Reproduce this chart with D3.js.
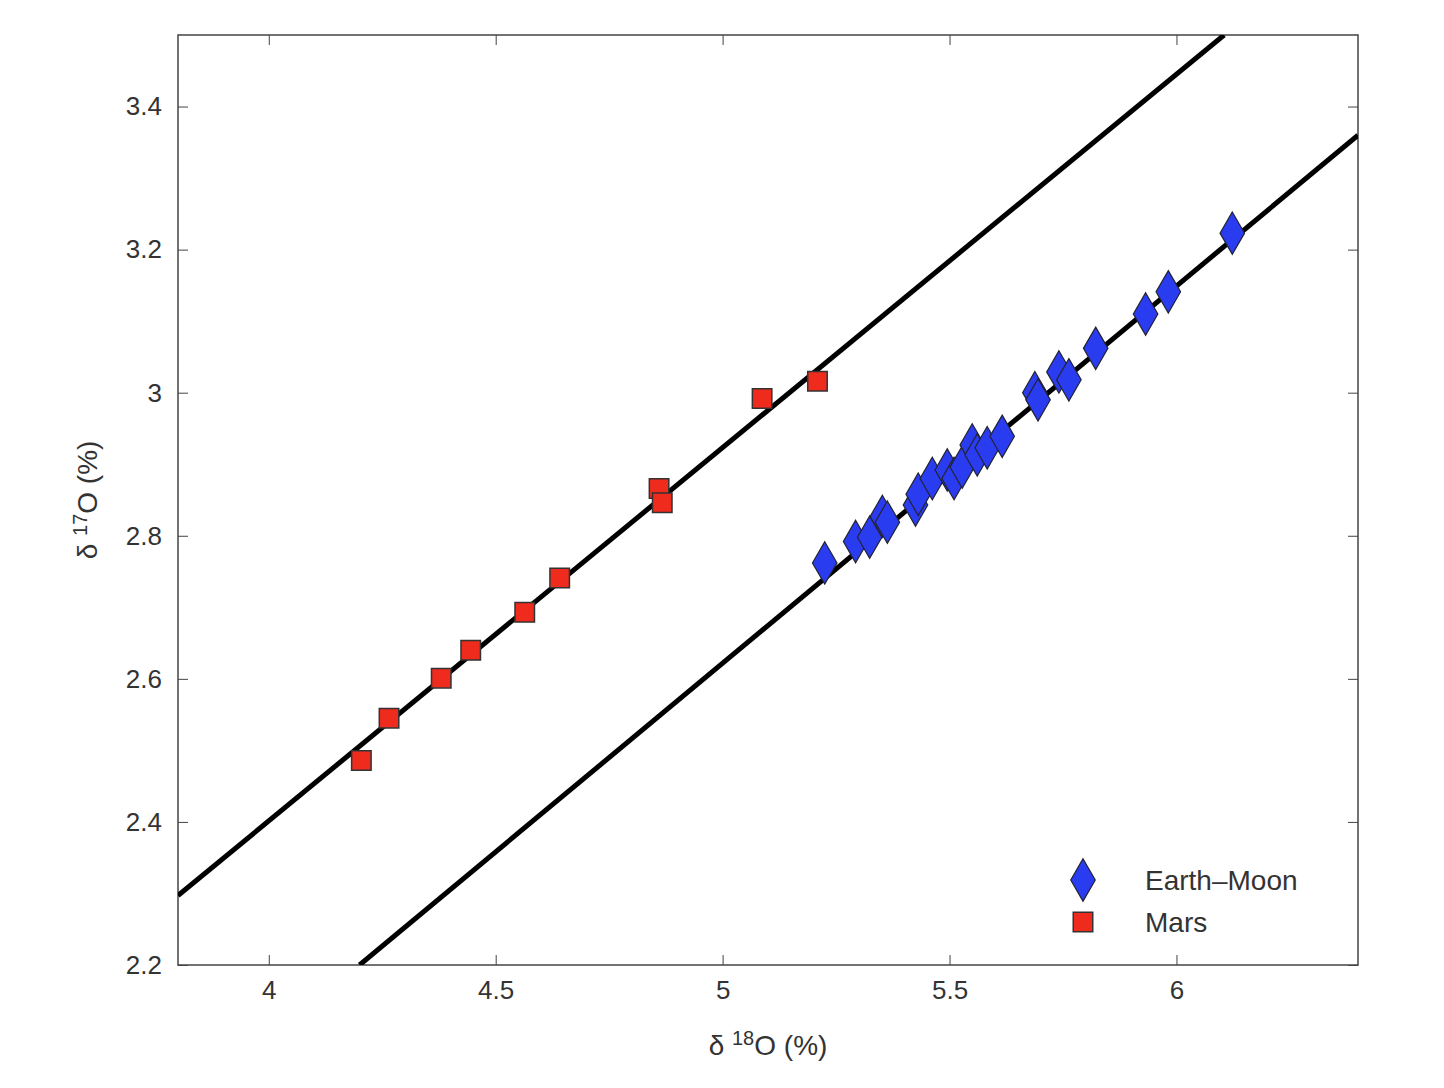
<!DOCTYPE html>
<html>
<head>
<meta charset="utf-8">
<script src="https://cdn.jsdelivr.net/npm/d3@7"></script>
<style>body{margin:0;background:#fff}text{font-family:"Liberation Sans",Arial,sans-serif;fill:#333}</style>
</head>
<body>
<svg id="c" width="1444" height="1088"></svg>
<script>
var marsX = [4.204,4.265,4.380,4.445,4.564,4.641,4.860,4.867,5.087,5.209];
var marsY = [2.486,2.545,2.601,2.640,2.693,2.741,2.866,2.846,2.992,3.016];
var earthX = [5.225,5.293,5.324,5.352,5.363,5.425,5.431,5.462,5.495,5.510,5.528,5.550,5.561,5.583,5.616,5.688,5.695,5.741,5.763,5.822,5.932,5.982,6.123];
var earthY = [2.762,2.792,2.798,2.827,2.819,2.843,2.858,2.880,2.892,2.880,2.896,2.927,2.913,2.923,2.939,3.000,2.990,3.029,3.018,3.062,3.110,3.141,3.223];
// fit lines: [x0,y0,x1,y1]
var marsLine = [3.8,2.297,6.105,3.5];
var earthLine = [4.2,2.2,6.4,3.36];
var xTicks = [4,4.5,5,5.5,6];
var yTicks = [2.2,2.4,2.6,2.8,3,3.2,3.4];

var svg = d3.select('#c');
var L=178,R=1358,T=35,B=965;
var x = d3.scaleLinear().domain([3.8,6.4]).range([L,R]);
var y = d3.scaleLinear().domain([2.2,3.5]).range([B,T]);

var clip = svg.append('clipPath').attr('id','cl').append('rect')
  .attr('x',L).attr('y',T).attr('width',R-L).attr('height',B-T);

var g = svg.append('g');
g.append('g').attr('transform','translate(0,'+B+')')
  .call(d3.axisBottom(x).tickValues(xTicks).tickFormat(d3.format('')).tickSizeInner(-10).tickSizeOuter(0).tickPadding(16));
g.append('g').attr('transform','translate('+R+','+0+')')
  .call(d3.axisTop(x).tickValues(xTicks).tickSizeInner(0).tickSizeOuter(0).tickFormat(''));
g.append('g').attr('transform','translate(0,'+T+')')
  .call(d3.axisBottom(x).tickValues(xTicks).tickSizeInner(10).tickSizeOuter(0).tickFormat(''));
g.append('g').attr('transform','translate('+L+',0)')
  .call(d3.axisLeft(y).tickValues(yTicks).tickFormat(d3.format('')).tickSizeInner(-10).tickSizeOuter(0).tickPadding(16));
g.append('g').attr('transform','translate('+R+',0)')
  .call(d3.axisRight(y).tickValues(yTicks).tickSizeInner(-10).tickSizeOuter(0).tickFormat(''));
g.selectAll('.domain').remove();
g.selectAll('text').attr('font-size',26).style('fill','#333');
g.selectAll('line').attr('stroke','#444');
svg.append('rect').attr('x',L).attr('y',T).attr('width',R-L).attr('height',B-T)
  .attr('fill','none').attr('stroke','#444').attr('stroke-width',1.5);

[marsLine,earthLine].forEach(function(l){
  svg.append('line').attr('clip-path','url(#cl)')
    .attr('x1',x(l[0])).attr('y1',y(l[1])).attr('x2',x(l[2])).attr('y2',y(l[3]))
    .attr('stroke','#000').attr('stroke-width',5);
});

var sq = d3.symbol().type(d3.symbolSquare).size(380);
var dm = d3.symbol().type(d3.symbolDiamond).size(520);
svg.selectAll('.m').data(marsX).enter().append('path')
  .attr('d',sq).attr('transform',function(d,i){return 'translate('+x(d)+','+y(marsY[i])+')';})
  .attr('fill','#ee2b1c').attr('stroke','#333').attr('stroke-width',1.5);
svg.selectAll('.e').data(earthX).enter().append('path')
  .attr('d',dm).attr('transform',function(d,i){return 'translate('+x(d)+','+y(earthY[i])+')';})
  .attr('fill','#2a3cf0').attr('stroke','#223').attr('stroke-width',1.2);

// legend
svg.append('path').attr('d',dm).attr('transform','translate(1083,880)')
  .attr('fill','#2a3cf0').attr('stroke','#223').attr('stroke-width',1.2);
svg.append('path').attr('d',sq).attr('transform','translate(1083,922)')
  .attr('fill','#ee2b1c').attr('stroke','#333').attr('stroke-width',1.5);
svg.append('text').attr('x',1145).attr('y',890).attr('font-size',28).text('Earth\u2013Moon');
svg.append('text').attr('x',1145).attr('y',932).attr('font-size',28).text('Mars');

// axis titles
var xt = svg.append('text').attr('x',768).attr('y',1055).attr('text-anchor','middle').attr('font-size',28);
xt.append('tspan').text('\u03B4 ');
xt.append('tspan').attr('dy',-10).attr('font-size',20).text('18');
xt.append('tspan').attr('dy',10).text('O (%)');
var yt = svg.append('text').attr('transform','translate(97,500) rotate(-90)').attr('text-anchor','middle').attr('font-size',28);
yt.append('tspan').text('\u03B4 ');
yt.append('tspan').attr('dy',-10).attr('font-size',20).text('17');
yt.append('tspan').attr('dy',10).text('O (%)');
</script>
</body>
</html>
